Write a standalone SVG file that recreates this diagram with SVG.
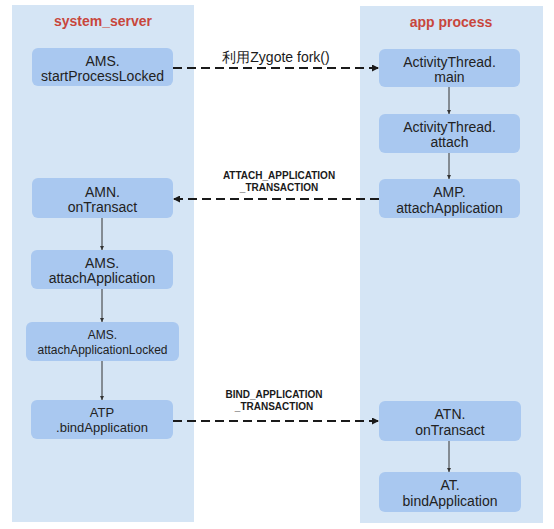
<svg xmlns="http://www.w3.org/2000/svg" width="554" height="529" viewBox="0 0 554 529">
<defs>
<style>
.panel{fill:#d5e5f5;}
.title{font-family:"Liberation Sans",Arial,sans-serif;font-size:14px;font-weight:bold;fill:#c8463c;text-anchor:middle;}
.node rect{fill:#a9c8f0;}
.node text{font-family:"Liberation Sans",Arial,sans-serif;font-size:14px;fill:#222;text-anchor:middle;}
.node text.sm{font-size:12px;}
.node text.md{font-size:13px;}
.dash{fill:none;stroke:#1a1a1a;stroke-width:2;stroke-dasharray:9 5;}
.solid{fill:none;stroke:#333;stroke-width:1;}
.lbl{font-family:"Liberation Sans",Arial,sans-serif;font-size:14px;fill:#1a1a1a;text-anchor:middle;}
.blbl{font-family:"Liberation Sans",Arial,sans-serif;font-size:10px;font-weight:bold;fill:#1a1a1a;text-anchor:middle;}
</style>
<marker id="big" viewBox="0 0 10 10" refX="10" refY="5" markerWidth="9" markerHeight="7" markerUnits="userSpaceOnUse" orient="auto"><path d="M0,0 L10,5 L0,10 z" fill="#1a1a1a"/></marker>
<marker id="small" viewBox="0 0 10 10" refX="10" refY="5" markerWidth="5" markerHeight="4" markerUnits="userSpaceOnUse" orient="auto"><path d="M0,0 L10,5 L0,10 z" fill="#333"/></marker>
</defs>
<rect width="554" height="529" fill="#ffffff"/>
<g id="lane-system-server">
<rect class="panel" x="12" y="5" width="182" height="517"/>
<text class="title" x="103" y="26">system_server</text>
</g>
<g id="lane-app-process">
<rect class="panel" x="360" y="6" width="183" height="517"/>
<text class="title" x="451" y="27">app process</text>
</g>
<g id="n-startProcessLocked" class="node"><rect x="32" y="48" width="141" height="38" rx="6"/><text x="102.5" y="66">AMS.</text><text x="102.5" y="81">startProcessLocked</text></g>
<g id="n-amn-onTransact" class="node"><rect x="32" y="178" width="141" height="40" rx="6"/><text x="102.5" y="197">AMN.</text><text x="102.5" y="212">onTransact</text></g>
<g id="n-ams-attachApplication" class="node"><rect x="31" y="250" width="142" height="39" rx="6"/><text x="102" y="268">AMS.</text><text x="102" y="283">attachApplication</text></g>
<g id="n-attachApplicationLocked" class="node"><rect x="26" y="322" width="153" height="39" rx="6"/><text class="sm" x="102.5" y="339">AMS.</text><text class="sm" x="102.5" y="354">attachApplicationLocked</text></g>
<g id="n-atp-bindApplication" class="node"><rect x="31" y="400" width="142" height="39" rx="6"/><text class="md" x="102" y="417">ATP</text><text class="md" x="102" y="432">.bindApplication</text></g>
<g id="n-at-main" class="node"><rect x="379" y="49" width="141" height="38" rx="6"/><text x="449.5" y="67">ActivityThread.</text><text x="449.5" y="82">main</text></g>
<g id="n-at-attach" class="node"><rect x="379" y="114" width="141" height="39" rx="6"/><text x="449.5" y="132">ActivityThread.</text><text x="449.5" y="147">attach</text></g>
<g id="n-amp-attachApplication" class="node"><rect x="379" y="179" width="141" height="39" rx="6"/><text x="449.5" y="197">AMP.</text><text x="449.5" y="213">attachApplication</text></g>
<g id="n-atn-onTransact" class="node"><rect x="379" y="401" width="142" height="40" rx="6"/><text x="450" y="419">ATN.</text><text x="450" y="435">onTransact</text></g>
<g id="n-at-bindApplication" class="node"><rect x="379" y="472" width="142" height="40" rx="6"/><text x="450" y="490">AT.</text><text x="450" y="506">bindApplication</text></g>
<g id="connectors">
<line class="dash" x1="173" y1="68" x2="379" y2="68" marker-end="url(#big)"/>
<text class="lbl" x="276" y="62">利用Zygote fork()</text>
<line class="dash" x1="379" y1="199" x2="173" y2="199" marker-end="url(#big)"/>
<text class="blbl" x="279" y="179">ATTACH_APPLICATION</text>
<text class="blbl" x="279" y="191">_TRANSACTION</text>
<line class="dash" x1="173" y1="421" x2="379" y2="421" marker-end="url(#big)"/>
<text class="blbl" x="274" y="398">BIND_APPLICATION</text>
<text class="blbl" x="274" y="410">_TRANSACTION</text>
<line class="solid" x1="102" y1="218" x2="102" y2="250" marker-end="url(#small)"/>
<line class="solid" x1="102" y1="289" x2="102" y2="322" marker-end="url(#small)"/>
<line class="solid" x1="102" y1="361" x2="102" y2="400" marker-end="url(#small)"/>
<line class="solid" x1="449" y1="87" x2="449" y2="114" marker-end="url(#small)"/>
<line class="solid" x1="449" y1="153" x2="449" y2="179" marker-end="url(#small)"/>
<line class="solid" x1="449" y1="441" x2="449" y2="472" marker-end="url(#small)"/>
</g>
</svg>
